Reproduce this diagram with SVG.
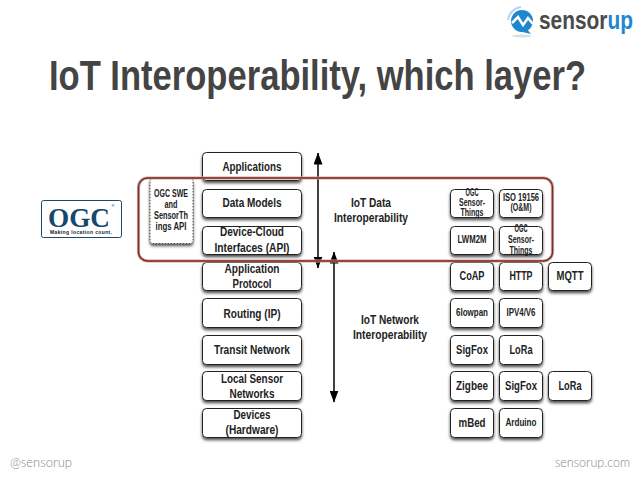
<svg xmlns="http://www.w3.org/2000/svg" width="638" height="479" viewBox="0 0 638 479">
<defs>
<filter id="sh" x="-20%" y="-20%" width="140%" height="150%"><feDropShadow dx="0" dy="2.200" stdDeviation="1.600" flood-color="#000" flood-opacity="0.7"/></filter>
<marker id="ah" markerUnits="userSpaceOnUse" markerWidth="12" markerHeight="9" refX="11.500" refY="4.500" orient="auto-start-reverse"><path d="M0 0L12 4.500L0 9Z" fill="#000"/></marker>
<style>
text{font-family:"Liberation Sans",Arial,sans-serif;font-weight:700;fill:#222;text-anchor:middle}
.b{fill:#fff;stroke:#222;stroke-width:1;filter:url(#sh)}
.d{fill:#fff;stroke:#444;stroke-width:1;stroke-dasharray:1.500 1.500;filter:url(#sh)}
.t{font-size:12.500px}.s{font-size:10px}.l{font-size:13px}
.c{stroke:#000;stroke-width:1.500;fill:none;marker-start:url(#ah);marker-end:url(#ah)}
.f{font-family:Lato,"Liberation Sans",sans-serif;font-weight:300;font-size:13px;fill:#888}
</style>
</defs>
<rect width="638" height="479" fill="#fff"/>
<g id="logo-sensorup">
<ellipse cx="522" cy="36" rx="10" ry="1.500" fill="#ddd"/>
<path d="M508 20A15 15 0 0 1 521 7" fill="none" stroke="#b5d6ee" stroke-width="2"/>
<circle cx="522" cy="21" r="11" fill="#1f86d0"/>
<path d="M526 28L531 34L518 31Z" fill="#1f86d0"/>
<path d="M512 23L518 17L523 25L528 18L533 24" fill="none" stroke="#fff" stroke-width="2.500"/>
<text x="539" y="29" style="text-anchor:start;font-size:26px;fill:#4a4a4a" textLength="94" lengthAdjust="spacingAndGlyphs">sensor<tspan style="fill:#1f86d0">up</tspan></text>
</g>
<text id="title" transform="translate(317.500 90) scale(.85 1)" style="font-size:42px;fill:#444" textLength="632" lengthAdjust="spacingAndGlyphs">IoT Interoperability, which layer?</text>
<g id="logo-ogc">
<rect x="41.500" y="200.500" width="80" height="37" rx="2" fill="#fff" stroke="#1c4a66"/>
<text x="79" y="227" style="font-family:'Liberation Serif',serif;font-size:28px;fill:#15496b" textLength="62" lengthAdjust="spacingAndGlyphs">OGC</text>
<text x="113" y="207" style="font-size:4px;fill:#15496b">®</text>
<text x="81" y="234" style="font-size:5px;fill:#222" textLength="62">Making location count.</text>
</g>
<g id="n-applications"><rect class="b" x="202.500" y="152.500" width="99" height="28" rx="4"/><text class="t" x="252" y="171" textLength="59" lengthAdjust="spacingAndGlyphs">Applications</text></g>
<g id="n-data-models"><rect class="b" x="202.500" y="189.500" width="99" height="28" rx="4"/><text class="t" x="252" y="207" textLength="59" lengthAdjust="spacingAndGlyphs">Data Models</text></g>
<g id="n-device-cloud"><rect class="b" x="202.500" y="226.500" width="99" height="28" rx="4"/><text class="t" x="252" y="236" textLength="64" lengthAdjust="spacingAndGlyphs">Device-Cloud</text><text class="t" x="252" y="252" textLength="75" lengthAdjust="spacingAndGlyphs">Interfaces (API)</text></g>
<g id="n-app-protocol"><rect class="b" x="202.500" y="262.500" width="99" height="28" rx="4"/><text class="t" x="252" y="273" textLength="55" lengthAdjust="spacingAndGlyphs">Application</text><text class="t" x="252" y="288" textLength="39" lengthAdjust="spacingAndGlyphs">Protocol</text></g>
<g id="n-routing"><rect class="b" x="202.500" y="298.500" width="99" height="29" rx="4"/><text class="t" x="252" y="318" textLength="57" lengthAdjust="spacingAndGlyphs">Routing (IP)</text></g>
<g id="n-transit"><rect class="b" x="202.500" y="335.500" width="99" height="29" rx="4"/><text class="t" x="252" y="354" textLength="76" lengthAdjust="spacingAndGlyphs">Transit Network</text></g>
<g id="n-local"><rect class="b" x="202.500" y="371.500" width="99" height="29" rx="4"/><text class="t" x="252" y="383" textLength="62" lengthAdjust="spacingAndGlyphs">Local Sensor</text><text class="t" x="252" y="398" textLength="45" lengthAdjust="spacingAndGlyphs">Networks</text></g>
<g id="n-devices"><rect class="b" x="202.500" y="408.500" width="99" height="29" rx="4"/><text class="t" x="252" y="419" textLength="37" lengthAdjust="spacingAndGlyphs">Devices</text><text class="t" x="252" y="434" textLength="53" lengthAdjust="spacingAndGlyphs">(Hardware)</text></g>
<g id="n-ogc-swe"><rect class="d" x="150" y="178.500" width="43" height="65" rx="3"/><text class="s" x="171" y="197" textLength="34" lengthAdjust="spacingAndGlyphs">OGC SWE</text><text class="s" x="171" y="208" textLength="13" lengthAdjust="spacingAndGlyphs">and</text><text class="s" x="171" y="219" textLength="34" lengthAdjust="spacingAndGlyphs">SensorTh</text><text class="s" x="171" y="230" textLength="31" lengthAdjust="spacingAndGlyphs">ings API</text></g>
<g id="n-ogc1"><rect class="b" x="450.500" y="189.500" width="43" height="28" rx="4"/><text class="s" x="472" y="196" textLength="13" lengthAdjust="spacingAndGlyphs">OGC</text><text class="s" x="472" y="206" textLength="26" lengthAdjust="spacingAndGlyphs">Sensor-</text><text class="s" x="472" y="216" textLength="23" lengthAdjust="spacingAndGlyphs">Things</text></g>
<g id="n-iso"><rect class="b" x="499.500" y="189.500" width="43" height="28" rx="4"/><text class="s" x="521" y="201" textLength="36" lengthAdjust="spacingAndGlyphs">ISO 19156</text><text class="s" x="521" y="211" textLength="21" lengthAdjust="spacingAndGlyphs">(O&amp;M)</text></g>
<g id="n-lwm2m"><rect class="b" x="450.500" y="226.500" width="43" height="28" rx="4"/><text class="s" x="472" y="243" textLength="29" lengthAdjust="spacingAndGlyphs">LWM2M</text></g>
<g id="n-ogc2"><rect class="b" x="499.500" y="226.500" width="43" height="28" rx="4"/><text class="s" x="521" y="232" textLength="13" lengthAdjust="spacingAndGlyphs">OGC</text><text class="s" x="521" y="243" textLength="26" lengthAdjust="spacingAndGlyphs">Sensor-</text><text class="s" x="521" y="254" textLength="23" lengthAdjust="spacingAndGlyphs">Things</text></g>
<g id="n-coap"><rect class="b" x="450.500" y="262.500" width="43" height="28" rx="4"/><text class="l" x="472" y="280" textLength="25" lengthAdjust="spacingAndGlyphs">CoAP</text></g>
<g id="n-http"><rect class="b" x="499.500" y="262.500" width="43" height="28" rx="4"/><text class="l" x="521" y="280" textLength="23" lengthAdjust="spacingAndGlyphs">HTTP</text></g>
<g id="n-mqtt"><rect class="b" x="548.500" y="262.500" width="43" height="28" rx="4"/><text class="l" x="570" y="280" textLength="27" lengthAdjust="spacingAndGlyphs">MQTT</text></g>
<g id="n-6lowpan"><rect class="b" x="450.500" y="298.500" width="43" height="29" rx="4"/><text class="s" x="472" y="316" textLength="32" lengthAdjust="spacingAndGlyphs">6lowpan</text></g>
<g id="n-ipv"><rect class="b" x="499.500" y="298.500" width="43" height="29" rx="4"/><text class="s" x="521" y="316" textLength="29" lengthAdjust="spacingAndGlyphs">IPV4/V6</text></g>
<g id="n-sigfox1"><rect class="b" x="450.500" y="335.500" width="43" height="29" rx="4"/><text class="l" x="472" y="354" textLength="32" lengthAdjust="spacingAndGlyphs">SigFox</text></g>
<g id="n-lora1"><rect class="b" x="499.500" y="335.500" width="43" height="29" rx="4"/><text class="l" x="521" y="354" textLength="23" lengthAdjust="spacingAndGlyphs">LoRa</text></g>
<g id="n-zigbee"><rect class="b" x="450.500" y="371.500" width="43" height="29" rx="4"/><text class="l" x="472" y="390" textLength="32" lengthAdjust="spacingAndGlyphs">Zigbee</text></g>
<g id="n-sigfox2"><rect class="b" x="499.500" y="371.500" width="43" height="29" rx="4"/><text class="l" x="521" y="390" textLength="32" lengthAdjust="spacingAndGlyphs">SigFox</text></g>
<g id="n-lora2"><rect class="b" x="548.500" y="371.500" width="43" height="29" rx="4"/><text class="l" x="570" y="390" textLength="23" lengthAdjust="spacingAndGlyphs">LoRa</text></g>
<g id="n-mbed"><rect class="b" x="450.500" y="408.500" width="43" height="29" rx="4"/><text class="l" x="472" y="427" textLength="27" lengthAdjust="spacingAndGlyphs">mBed</text></g>
<g id="n-arduino"><rect class="b" x="499.500" y="408.500" width="43" height="29" rx="4"/><text class="s" x="521" y="426" style="font-size:10.500px" textLength="31" lengthAdjust="spacingAndGlyphs">Arduino</text></g>
<g id="connectors">
<line class="c" x1="318" y1="153" x2="318" y2="268"/>
<line class="c" x1="334" y1="252" x2="334" y2="402"/>
</g>
<g id="highlight" fill="none">
<rect x="138.500" y="178" width="414" height="83" rx="9" stroke="#c9a5a0" stroke-width="3.200"/>
<rect x="138.500" y="178" width="414" height="83" rx="9" stroke="#7f2a24" stroke-width="1.400"/>
</g>
<g id="labels">
<text class="t" x="371" y="207" textLength="40" lengthAdjust="spacingAndGlyphs">IoT Data</text><text class="t" x="371" y="222" textLength="74" lengthAdjust="spacingAndGlyphs">Interoperability</text>
<text class="t" x="390" y="324" textLength="58" lengthAdjust="spacingAndGlyphs">IoT Network</text><text class="t" x="390" y="339" textLength="74" lengthAdjust="spacingAndGlyphs">Interoperability</text>
</g>
<text class="f" x="41" y="467" textLength="62" lengthAdjust="spacingAndGlyphs">@sensorup</text>
<text class="f" x="592.500" y="467" textLength="75" lengthAdjust="spacingAndGlyphs">sensorup.com</text>
</svg>
